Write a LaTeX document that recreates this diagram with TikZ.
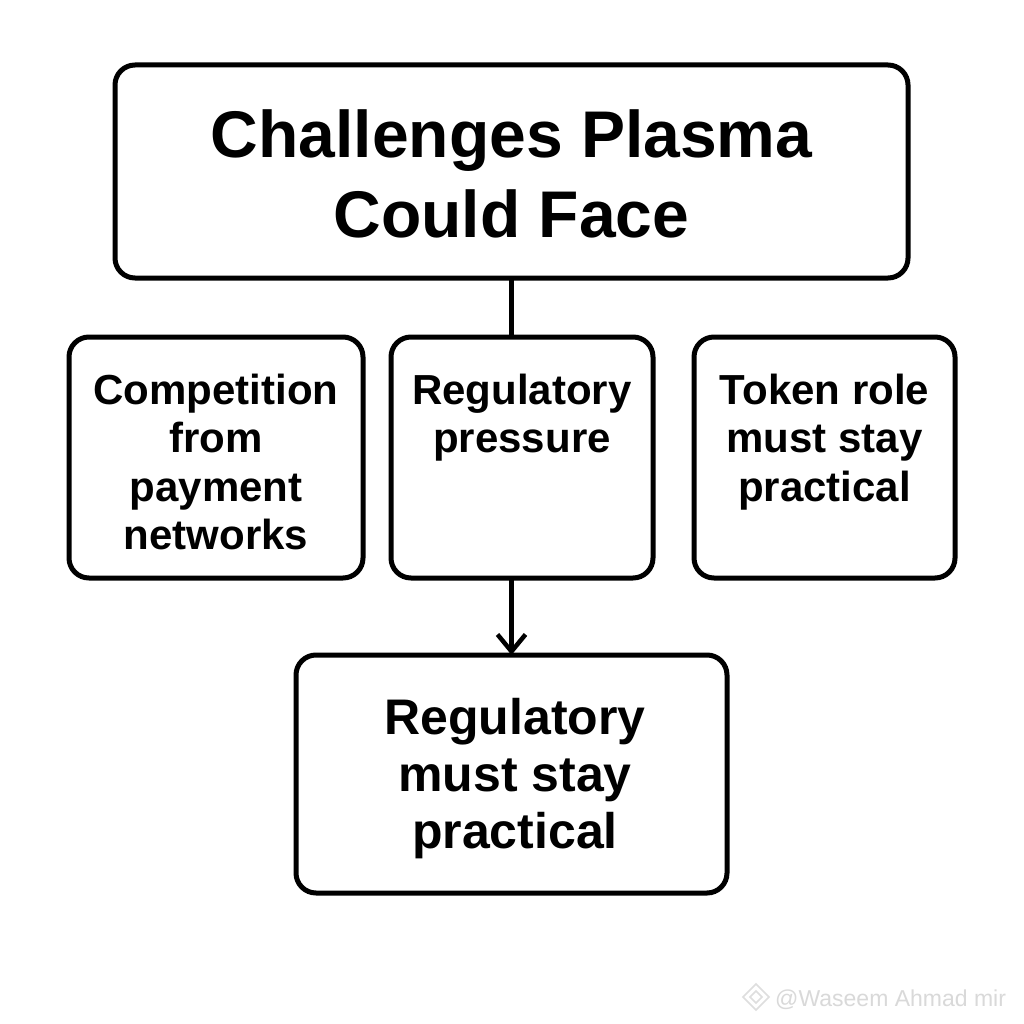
\documentclass[tikz,border=0pt]{standalone}
\usepackage{fontspec}
\setmainfont{Liberation Sans}
\usetikzlibrary{arrows.meta,calc}
\tikzset{
  card/.style={draw=black, line width=5pt, rounded corners=20pt, inner sep=0pt, outer sep=0pt, fill=white},
  cardtext/.style={inner sep=0pt, outer sep=0pt, align=center, anchor=north, text=black},
  link/.style={draw=black, line width=4.5pt},
  linkarrow/.style={link, -{Straight Barb[length=17pt,width=28pt,line width=4.5pt]}},
  wmark/.style={text=black!15, inner sep=0pt, anchor=base west, font=\fontsize{23}{26}\selectfont},
  wlogo/.style={draw=black!13, line width=1.5pt}
}
\begin{document}
\begin{tikzpicture}[x=1pt,y=-1pt]
\useasboundingbox[fill=white] (0,0) rectangle (1024,1024);
% boxes
\node[card, minimum width=793pt, minimum height=213pt] (top) at (511.5,171.5) {};
\node[card, minimum width=294pt, minimum height=241pt] (left) at (216,457.5) {};
\node[card, minimum width=262pt, minimum height=241pt] (mid) at (522,457.5) {};
\node[card, minimum width=261pt, minimum height=241pt] (right) at (824.5,457.5) {};
\node[card, minimum width=431pt, minimum height=238pt] (bot) at (511.5,774) {};
% texts
\node[cardtext, font=\bfseries\fontsize{66}{80}\selectfont] (toptext) at (511.5,110) {Challenges Plasma\\Could Face};
\node[cardtext, font=\bfseries\fontsize{42}{48.3}\selectfont] (lefttext) at (216,374) {Competition\\from\\payment\\networks};
\node[cardtext, font=\bfseries\fontsize{42}{48.3}\selectfont] (midtext) at (522,374) {Regulatory\\pressure};
\node[cardtext, font=\bfseries\fontsize{42}{48.3}\selectfont] (righttext) at (824.5,374) {Token role\\must stay\\practical};
\node[cardtext, font=\bfseries\fontsize{50}{57}\selectfont] (bottext) at (515,698.5) {Regulatory\\must stay\\practical};
% connectors
\draw[link] (top.south) -- (top.south |- mid.north);
\draw[linkarrow] (top.south |- mid.south) -- (top.south |- bot.north);
% watermark
\coordinate (logo) at (756,997);
\draw[wlogo] ($(logo)+(-13,0)$) -- ($(logo)+(0,-13)$) -- ($(logo)+(13,0)$) -- ($(logo)+(0,13)$) -- cycle;
\draw[wlogo] ($(logo)+(-6,0)$) -- ($(logo)+(0,-6)$) -- ($(logo)+(6,0)$) -- ($(logo)+(0,6)$) -- cycle;
\node[wmark] (wm) at (775,1006) {@Waseem Ahmad mir};
\end{tikzpicture}
\end{document}
